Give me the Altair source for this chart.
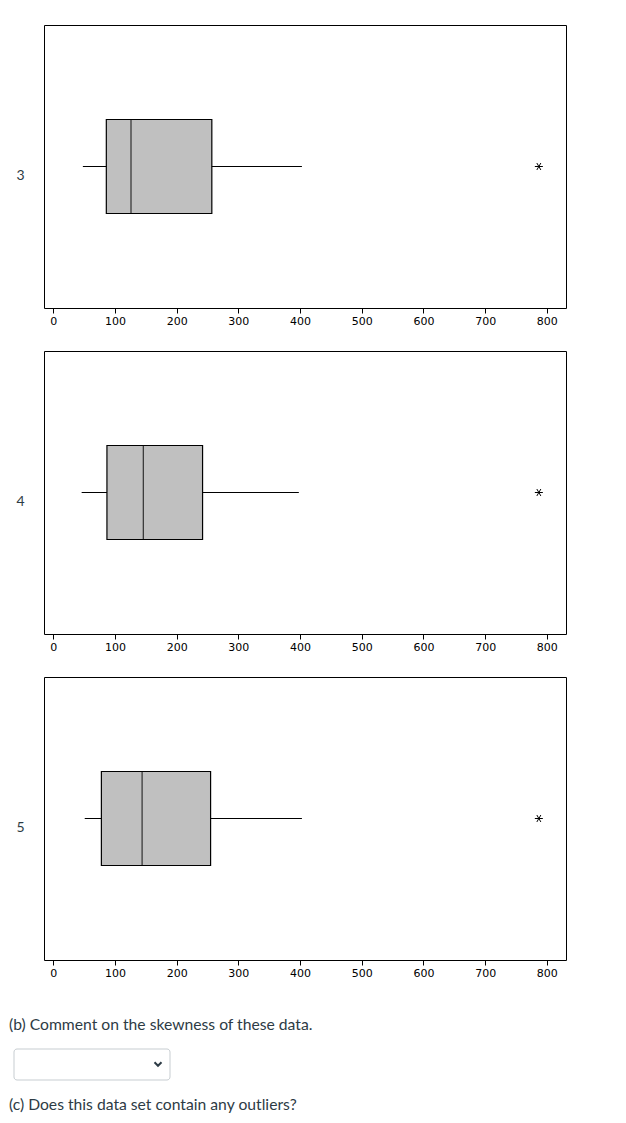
import altair as alt
import pandas as pd

# ---- data ----
rows = ["3", "4", "5"]
whisker_lo = [48, 46, 51]
q1 = [86, 87, 78]
median = [126, 146, 144]
q3 = [257, 242, 255]
whisker_hi = [403, 398, 403]
outlier = [787, 787, 787]
x_ticks = [0, 100, 200, 300, 400, 500, 600, 700, 800]
x_domain = [-15, 831]

question_b = "(b) Comment on the skewness of these data."
question_c = "(c) Does this data set contain any outliers?"

df = pd.DataFrame({
    "row": rows, "lo": whisker_lo, "q1": q1, "median": median,
    "q3": q3, "hi": whisker_hi, "out": outlier,
})

PANEL_W, PANEL_H, BOX_H = 522, 283, 94
TEXT_COLOR = "#2D3B45"
ASTERISK = "M-1,0L1,0M-0.5,-0.866L0.5,0.866M-0.5,0.866L0.5,-0.866"

x_scale = alt.Scale(domain=x_domain, nice=False, zero=False)
x_axis = alt.Axis(values=x_ticks, title=None, grid=False, domain=False,
                  tickColor="black", tickSize=5, labelColor="black",
                  labelFont="DejaVu Sans", labelFontSize=11, labelPadding=2,
                  minExtent=20, maxExtent=20)


def panel(r):
    base = alt.Chart(df).transform_filter(alt.datum.row == r)
    y_enc = alt.Y("row:N", title=None,
                  axis=alt.Axis(ticks=False, tickSize=0, domain=False, grid=False,
                                labelFont="Lato", labelFontSize=14,
                                labelColor=TEXT_COLOR, labelPadding=20,
                                labelOffset=9, labelAngle=0,
                                minExtent=35, maxExtent=35))
    whisk = base.mark_rule(color="black", strokeWidth=1.2).encode(
        x=alt.X("lo:Q", scale=x_scale, axis=x_axis), x2="hi:Q", y=y_enc)
    box = base.mark_bar(fill="#c0c0c0", stroke="black", strokeWidth=1.2,
                        size=BOX_H).encode(
        x=alt.X("q1:Q", scale=x_scale, axis=x_axis), x2="q3:Q", y=y_enc)
    med = base.mark_tick(color="black", size=BOX_H, thickness=1.3).encode(
        x=alt.X("median:Q", scale=x_scale, axis=x_axis), y=y_enc)
    out = base.mark_point(shape=ASTERISK, size=64, filled=False,
                          stroke="black", strokeWidth=1, opacity=1).encode(
        x=alt.X("out:Q", scale=x_scale, axis=x_axis), y=y_enc)
    return alt.layer(whisk, box, med, out).properties(
        width=PANEL_W, height=PANEL_H,
        view=alt.ViewBackground(stroke="black", strokeWidth=1))


txt_df = pd.DataFrame({"t": [question_b]})
txt_b = alt.Chart(txt_df).mark_text(
    align="left", baseline="middle", font="Lato", fontSize=15.7,
    color=TEXT_COLOR).encode(text="t:N", x=alt.value(-35), y=alt.value(22))
select_box = alt.Chart(txt_df).mark_rect(
    fill="white", stroke="#c7cdd1", strokeWidth=1, cornerRadius=3).encode(
    x=alt.value(-30), x2=alt.value(126), y=alt.value(46), y2=alt.value(77))
chevron = alt.Chart(txt_df).mark_point(
    shape="M-1,-0.5L0,0.5L1,-0.5", size=49, filled=False, stroke=TEXT_COLOR,
    strokeWidth=2, opacity=1).encode(x=alt.value(114), y=alt.value(61))
txt_c = alt.Chart(pd.DataFrame({"t": [question_c]})).mark_text(
    align="left", baseline="middle", font="Lato", fontSize=15.7,
    color=TEXT_COLOR).encode(text="t:N", x=alt.value(-35), y=alt.value(102))

text_chart = alt.layer(txt_b, select_box, chevron, txt_c).properties(
    width=PANEL_W, height=112,
    view=alt.ViewBackground(stroke="transparent"))

chart = alt.vconcat(panel("3"), panel("4"), panel("5"), text_chart,
                    spacing=21).properties(
    padding={"left": 0, "top": 16, "right": 5, "bottom": 0})

chart.save("out.html", embed_options={"renderer": "svg", "actions": False})
